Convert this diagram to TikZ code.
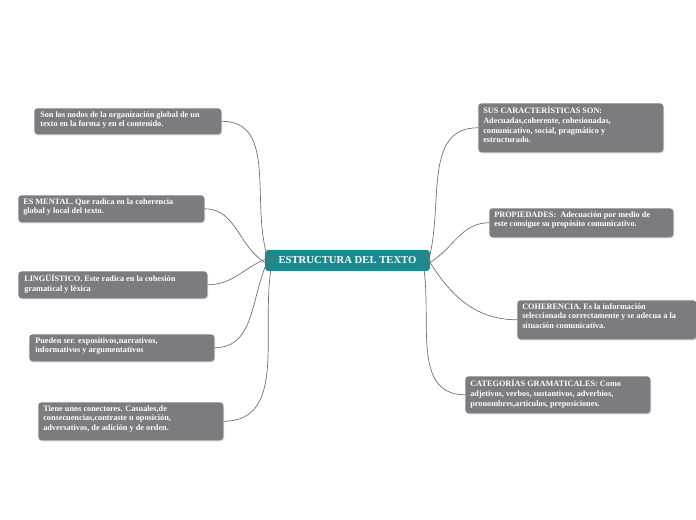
\documentclass[tikz,border=0pt]{standalone}
\usepackage{fontspec}
\setmainfont{Liberation Serif}
\usetikzlibrary{shadows}
\definecolor{boxgray}{HTML}{7B7B80}
\definecolor{teal1}{HTML}{168C92}
\begin{document}
\begin{tikzpicture}[x=0.75pt,y=-0.75pt,
  leaf/.style={fill=boxgray,rounded corners=2.5pt,text=white,font=\bfseries\fontsize{6.2}{7.4}\selectfont,align=left,inner sep=0pt,anchor=north west,drop shadow={shadow xshift=0.6pt,shadow yshift=-0.8pt,opacity=0.35}},
  conn/.style={draw=gray!85!black,line width=0.5pt}]
\useasboundingbox (0,0) rectangle (696,520);
\fill[white] (0,0) rectangle (696,520);
\node[fill=teal1,rounded corners=2.5pt,text=white,font=\bfseries\fontsize{8}{9}\selectfont,minimum width=123.75pt,minimum height=15.75pt,inner sep=0pt] (c) at (347.5,260.5) {ESTRUCTURA DEL TEXTO};

\node[leaf,minimum width=140.25pt,minimum height=19.5pt] (l1) at (34,108) {};
\node[leaf,minimum width=139.5pt,minimum height=20.25pt] (l2) at (18,195) {};
\node[leaf,minimum width=141.75pt,minimum height=20.25pt] (l3) at (18,271) {};
\node[leaf,minimum width=138.75pt,minimum height=20.25pt] (l4) at (29,334) {};
\node[leaf,minimum width=138.75pt,minimum height=28.5pt] (l5) at (38,402) {};
\node[leaf,minimum width=138.75pt,minimum height=36.75pt] (r1) at (478,103) {};
\node[leaf,minimum width=138pt,minimum height=21.75pt] (r2) at (489,208) {};
\node[leaf,minimum width=134.25pt,minimum height=29.25pt] (r3) at (517,300) {};
\node[leaf,minimum width=138.75pt,minimum height=27.75pt] (r4) at (465,376) {};

\tikzset{txt/.style={text=white,font=\bfseries\fontsize{6.2}{7.4}\selectfont,align=left,inner sep=0pt,anchor=north west}}
\node[txt] at (40,111) {Son los nodos de la organización global de un\\texto en la forma y en el contenido.};
\node[txt] at (23,198) {ES MENTAL. Que radica en la coherencia\\global y local del texto.};
\node[txt] at (24,274) {LINGÜÍSTICO. Este radica en la cohesión\\gramatical y léxica};
\node[txt] at (35,337) {Pueden ser. expositivos,narrativos,\\informativos y argumentativos};
\node[txt] at (43,405) {Tiene unos conectores. Casuales,de\\consecuencias,contraste u oposición,\\adversativos, de adición y de orden.};
\node[txt] at (483,106) {SUS CARACTERÍSTICAS SON:\\Adecuadas,coherente, cohesionadas,\\comunicativo, social, pragmático y\\estructurado.};
\node[txt] at (494,211) {PROPIEDADES:\ \ Adecuación por medio de\\este consigue su propósito comunicativo.};
\node[txt] at (522,303) {COHERENCIA. Es la información\\seleccionada correctamente y se adecua a la\\situación comunicativa.};
\node[txt] at (470,379) {CATEGORÍAS GRAMATICALES: Como\\adjetivos, verbos, sustantivos, adverbios,\\pronombres,articulos, preposiciones.};

\draw[conn] (l1.east) to[out=0,in=110] ([xshift=3pt]c.west);
\draw[conn] (l2.east) to[out=0,in=150] ([xshift=1pt,yshift=-2pt]c.west);
\draw[conn] (l3.east) to[out=0,in=200] ([xshift=3pt,yshift=2pt]c.west);
\draw[conn] (l4.east) to[out=0,in=240] ([xshift=5pt,yshift=5pt]c.west);
\draw[conn] (l5.east) to[out=0,in=255] ([xshift=7pt,yshift=5pt]c.west);
\draw[conn] (r1.west) to[out=180,in=70] ([xshift=-3pt,yshift=-5pt]c.east);
\draw[conn] (r2.west) to[out=180,in=30] ([xshift=-1pt,yshift=-2pt]c.east);
\draw[conn] (r3.west) to[out=180,in=-60] ([xshift=-4pt,yshift=5pt]c.east);
\draw[conn] (r4.west) to[out=180,in=-75] ([xshift=-7pt,yshift=5pt]c.east);
\end{tikzpicture}
\end{document}
